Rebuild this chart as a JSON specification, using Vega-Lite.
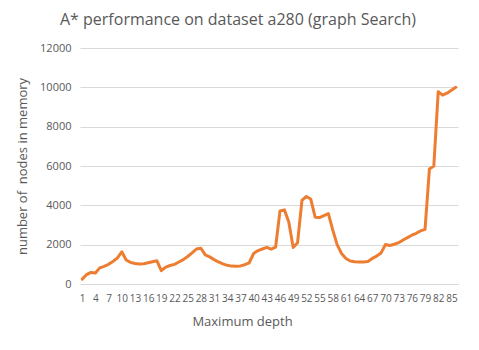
{
  "$schema": "https://vega.github.io/schema/vega-lite/v6.json",
  "autosize": {"type": "none"},
  "padding": {"left": 80, "top": 48, "right": 21, "bottom": 66},
  "width": 378,
  "height": 236,
  "background": "white",
  "title": {
    "text": "A* performance on dataset a280 (graph Search)",
    "font": "Open Sans",
    "fontSize": 16,
    "fontWeight": "normal",
    "color": "#595959",
    "anchor": "middle",
    "frame": "group",
    "dx": -31,
    "offset": 14
  },
  "data": {
    "values": [
      {"depth": 1, "nodes": 250}, {"depth": 2, "nodes": 480}, {"depth": 3, "nodes": 590}, {"depth": 4, "nodes": 560},
      {"depth": 5, "nodes": 820}, {"depth": 6, "nodes": 900}, {"depth": 7, "nodes": 1000}, {"depth": 8, "nodes": 1150},
      {"depth": 9, "nodes": 1320}, {"depth": 10, "nodes": 1640}, {"depth": 11, "nodes": 1220}, {"depth": 12, "nodes": 1100},
      {"depth": 13, "nodes": 1040}, {"depth": 14, "nodes": 1020}, {"depth": 15, "nodes": 1030}, {"depth": 16, "nodes": 1080},
      {"depth": 17, "nodes": 1130}, {"depth": 18, "nodes": 1180}, {"depth": 19, "nodes": 680}, {"depth": 20, "nodes": 860},
      {"depth": 21, "nodes": 940}, {"depth": 22, "nodes": 1000}, {"depth": 23, "nodes": 1120}, {"depth": 24, "nodes": 1240},
      {"depth": 25, "nodes": 1400}, {"depth": 26, "nodes": 1580}, {"depth": 27, "nodes": 1780}, {"depth": 28, "nodes": 1820},
      {"depth": 29, "nodes": 1480}, {"depth": 30, "nodes": 1380}, {"depth": 31, "nodes": 1240}, {"depth": 32, "nodes": 1120},
      {"depth": 33, "nodes": 1020}, {"depth": 34, "nodes": 950}, {"depth": 35, "nodes": 910}, {"depth": 36, "nodes": 900},
      {"depth": 37, "nodes": 920}, {"depth": 38, "nodes": 980}, {"depth": 39, "nodes": 1080}, {"depth": 40, "nodes": 1550},
      {"depth": 41, "nodes": 1700}, {"depth": 42, "nodes": 1780}, {"depth": 43, "nodes": 1860}, {"depth": 44, "nodes": 1770},
      {"depth": 45, "nodes": 1870}, {"depth": 46, "nodes": 3720}, {"depth": 47, "nodes": 3770}, {"depth": 48, "nodes": 3150},
      {"depth": 49, "nodes": 1860}, {"depth": 50, "nodes": 2100}, {"depth": 51, "nodes": 4250}, {"depth": 52, "nodes": 4450},
      {"depth": 53, "nodes": 4320}, {"depth": 54, "nodes": 3400}, {"depth": 55, "nodes": 3380}, {"depth": 56, "nodes": 3480},
      {"depth": 57, "nodes": 3580}, {"depth": 58, "nodes": 2750}, {"depth": 59, "nodes": 2000}, {"depth": 60, "nodes": 1550},
      {"depth": 61, "nodes": 1300}, {"depth": 62, "nodes": 1170}, {"depth": 63, "nodes": 1130}, {"depth": 64, "nodes": 1120},
      {"depth": 65, "nodes": 1120}, {"depth": 66, "nodes": 1140}, {"depth": 67, "nodes": 1300}, {"depth": 68, "nodes": 1420},
      {"depth": 69, "nodes": 1580}, {"depth": 70, "nodes": 2010}, {"depth": 71, "nodes": 1960}, {"depth": 72, "nodes": 2020},
      {"depth": 73, "nodes": 2100}, {"depth": 74, "nodes": 2240}, {"depth": 75, "nodes": 2360}, {"depth": 76, "nodes": 2480},
      {"depth": 77, "nodes": 2580}, {"depth": 78, "nodes": 2700}, {"depth": 79, "nodes": 2780}, {"depth": 80, "nodes": 5850},
      {"depth": 81, "nodes": 6000}, {"depth": 82, "nodes": 9780}, {"depth": 83, "nodes": 9600}, {"depth": 84, "nodes": 9700},
      {"depth": 85, "nodes": 9850}, {"depth": 86, "nodes": 10000}
    ]
  },
  "mark": {"type": "line", "color": "#ED7D31", "strokeWidth": 3, "strokeJoin": "round", "strokeCap": "round"},
  "encoding": {
    "x": {
      "field": "depth",
      "type": "quantitative",
      "scale": {"domain": [0.5, 86.5], "nice": false, "zero": false},
      "axis": {
        "title": "Maximum depth",
        "values": [1, 4, 7, 10, 13, 16, 19, 22, 25, 28, 31, 34, 37, 40, 43, 46, 49, 52, 55, 58, 61, 64, 67, 70, 73, 76, 79, 82, 85],
        "labelOverlap": false,
        "labelFlush": false,
        "labelFont": "Open Sans",
        "labelFontSize": 10,
        "labelColor": "#595959",
        "labelPadding": 9,
        "ticks": false,
        "grid": false,
        "domain": true,
        "domainColor": "#d9d9d9",
        "domainWidth": 1,
        "titleFont": "Open Sans",
        "titleFontSize": 13,
        "titleFontWeight": "normal",
        "titleColor": "#595959",
        "titlePadding": 12,
        "titleX": 162
      }
    },
    "y": {
      "field": "nodes",
      "type": "quantitative",
      "scale": {"domain": [0, 12000], "nice": false},
      "axis": {
        "title": "number of\u00a0 nodes in memory",
        "values": [0, 2000, 4000, 6000, 8000, 10000, 12000],
        "format": "d",
        "labelFont": "Open Sans",
        "labelFontSize": 11,
        "labelColor": "#595959",
        "labelPadding": 9,
        "ticks": false,
        "domain": false,
        "grid": true,
        "gridColor": "#d9d9d9",
        "gridWidth": 1,
        "titleFont": "Open Sans",
        "titleFontSize": 13,
        "titleFontWeight": "normal",
        "titleColor": "#595959",
        "titlePadding": 10
      }
    }
  },
  "config": {"view": {"stroke": null}}
}
